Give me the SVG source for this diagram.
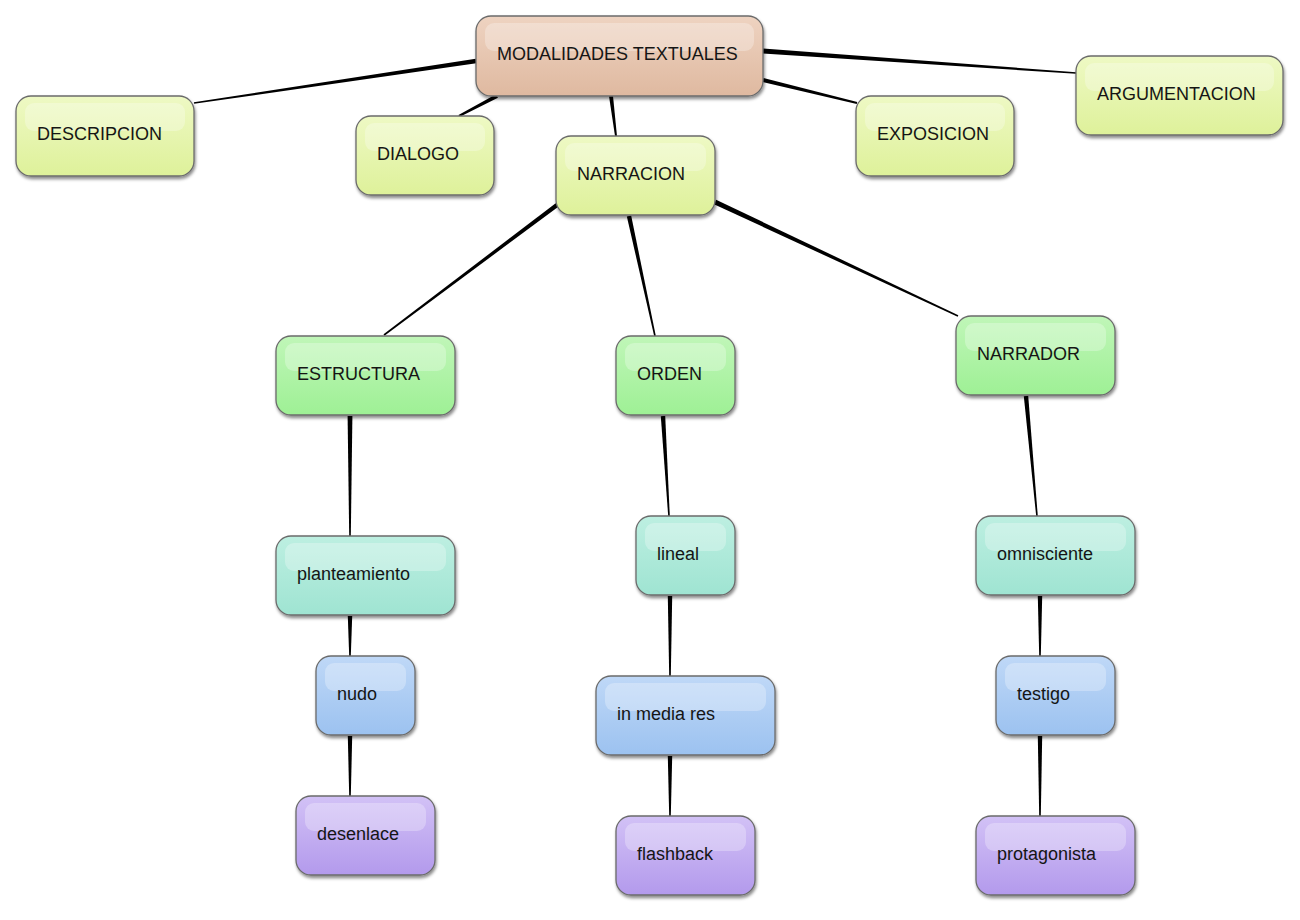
<svg xmlns="http://www.w3.org/2000/svg" width="1300" height="920" viewBox="0 0 1300 920">
<style>
.box{stroke:#6b6b6b;stroke-width:1.3;filter:url(#sh)}
.hl{fill:#ffffff;fill-opacity:0.28}
.lbl{font-family:"Liberation Sans",Arial,sans-serif;font-size:18px;fill:#151515}
.con{fill:#000}
</style>
<defs>
<filter id="sh" x="-10%" y="-10%" width="130%" height="140%">
<feDropShadow dx="1" dy="2.5" stdDeviation="1.8" flood-color="#000" flood-opacity="0.45"/>
</filter>
<linearGradient id="gRoot" x1="0" y1="0" x2="0" y2="1"><stop offset="0" stop-color="#eed3c1"/><stop offset="1" stop-color="#dfb9a0"/></linearGradient>
<linearGradient id="gY" x1="0" y1="0" x2="0" y2="1"><stop offset="0" stop-color="#eef9c4"/><stop offset="1" stop-color="#def19a"/></linearGradient>
<linearGradient id="gG" x1="0" y1="0" x2="0" y2="1"><stop offset="0" stop-color="#c0f6b8"/><stop offset="1" stop-color="#9ef095"/></linearGradient>
<linearGradient id="gT" x1="0" y1="0" x2="0" y2="1"><stop offset="0" stop-color="#bdefe1"/><stop offset="1" stop-color="#9fe4d2"/></linearGradient>
<linearGradient id="gB" x1="0" y1="0" x2="0" y2="1"><stop offset="0" stop-color="#bfd8f7"/><stop offset="1" stop-color="#9cc2f0"/></linearGradient>
<linearGradient id="gP" x1="0" y1="0" x2="0" y2="1"><stop offset="0" stop-color="#d2c1f6"/><stop offset="1" stop-color="#b39aec"/></linearGradient>
</defs>
<rect width="1300" height="920" fill="#ffffff"/>
<g id="connectors">
<polygon class="con" points="475.68,58.82 193.88,102.21 194.12,103.79 476.32,63.18"/>
<polygon class="con" points="496.07,94.23 458.53,115.11 459.47,116.89 497.93,97.77"/>
<polygon class="con" points="609.02,96.25 615.01,136.12 616.99,135.88 612.98,95.75"/>
<polygon class="con" points="762.52,81.94 856.76,103.97 857.24,102.03 763.48,78.06"/>
<polygon class="con" points="762.82,53.49 1075.94,73.8 1076.06,72.2 763.18,48.51"/>
<polygon class="con" points="555.68,203.24 383.52,334.36 384.48,335.64 558.32,206.76"/>
<polygon class="con" points="626.85,216.47 654.22,336.17 655.78,335.83 631.15,215.53"/>
<polygon class="con" points="713.94,204.26 957.66,316.72 958.34,315.28 716.06,199.74"/>
<polygon class="con" points="347.6,416 349.2,536 350.8,536 352.4,416"/>
<polygon class="con" points="660.8,416.13 668.2,516.05 669.8,515.95 665.2,415.87"/>
<polygon class="con" points="1023.81,396.2 1036.2,516.07 1037.8,515.93 1028.19,395.8"/>
<polygon class="con" points="347.8,616 349.2,656 350.8,656 352.2,616"/>
<polygon class="con" points="347.8,736 349.2,796 350.8,796 352.2,736"/>
<polygon class="con" points="667.8,596 669.2,676 670.8,676 672.2,596"/>
<polygon class="con" points="667.8,756 669.2,816 670.8,816 672.2,756"/>
<polygon class="con" points="1037.8,596 1039.2,656 1040.8,656 1042.2,596"/>
<polygon class="con" points="1037.8,736 1039.2,816 1040.8,816 1042.2,736"/>
</g>
<g id="n-root"><rect class="box" x="476" y="16" width="287" height="80" rx="15" fill="url(#gRoot)"/><rect class="hl" x="485" y="23" width="269" height="28" rx="9"/><text class="lbl" x="497" y="60">MODALIDADES TEXTUALES</text></g>
<g id="n-descripcion"><rect class="box" x="16" y="96" width="178" height="80" rx="15" fill="url(#gY)"/><rect class="hl" x="25" y="103" width="160" height="28" rx="9"/><text class="lbl" x="37" y="140">DESCRIPCION</text></g>
<g id="n-dialogo"><rect class="box" x="356" y="116" width="138" height="79" rx="15" fill="url(#gY)"/><rect class="hl" x="365" y="123" width="120" height="28" rx="9"/><text class="lbl" x="377" y="160">DIALOGO</text></g>
<g id="n-narracion"><rect class="box" x="556" y="136" width="159" height="79" rx="15" fill="url(#gY)"/><rect class="hl" x="565" y="143" width="141" height="28" rx="9"/><text class="lbl" x="577" y="180">NARRACION</text></g>
<g id="n-exposicion"><rect class="box" x="856" y="96" width="158" height="80" rx="15" fill="url(#gY)"/><rect class="hl" x="865" y="103" width="140" height="28" rx="9"/><text class="lbl" x="877" y="140">EXPOSICION</text></g>
<g id="n-argumentacion"><rect class="box" x="1076" y="56" width="207" height="79" rx="15" fill="url(#gY)"/><rect class="hl" x="1085" y="63" width="189" height="28" rx="9"/><text class="lbl" x="1097" y="100">ARGUMENTACION</text></g>
<g id="n-estructura"><rect class="box" x="276" y="336" width="179" height="79" rx="15" fill="url(#gG)"/><rect class="hl" x="285" y="343" width="161" height="28" rx="9"/><text class="lbl" x="297" y="380">ESTRUCTURA</text></g>
<g id="n-orden"><rect class="box" x="616" y="336" width="119" height="79" rx="15" fill="url(#gG)"/><rect class="hl" x="625" y="343" width="101" height="28" rx="9"/><text class="lbl" x="637" y="380">ORDEN</text></g>
<g id="n-narrador"><rect class="box" x="956" y="316" width="159" height="79" rx="15" fill="url(#gG)"/><rect class="hl" x="965" y="323" width="141" height="28" rx="9"/><text class="lbl" x="977" y="360">NARRADOR</text></g>
<g id="n-planteamiento"><rect class="box" x="276" y="536" width="179" height="79" rx="15" fill="url(#gT)"/><rect class="hl" x="285" y="543" width="161" height="28" rx="9"/><text class="lbl" x="297" y="580">planteamiento</text></g>
<g id="n-lineal"><rect class="box" x="636" y="516" width="99" height="79" rx="15" fill="url(#gT)"/><rect class="hl" x="645" y="523" width="81" height="28" rx="9"/><text class="lbl" x="657" y="560">lineal</text></g>
<g id="n-omnisciente"><rect class="box" x="976" y="516" width="159" height="79" rx="15" fill="url(#gT)"/><rect class="hl" x="985" y="523" width="141" height="28" rx="9"/><text class="lbl" x="997" y="560">omnisciente</text></g>
<g id="n-nudo"><rect class="box" x="316" y="656" width="99" height="79" rx="15" fill="url(#gB)"/><rect class="hl" x="325" y="663" width="81" height="28" rx="9"/><text class="lbl" x="337" y="700">nudo</text></g>
<g id="n-inmediares"><rect class="box" x="596" y="676" width="179" height="79" rx="15" fill="url(#gB)"/><rect class="hl" x="605" y="683" width="161" height="28" rx="9"/><text class="lbl" x="617" y="720">in media res</text></g>
<g id="n-testigo"><rect class="box" x="996" y="656" width="119" height="79" rx="15" fill="url(#gB)"/><rect class="hl" x="1005" y="663" width="101" height="28" rx="9"/><text class="lbl" x="1017" y="700">testigo</text></g>
<g id="n-desenlace"><rect class="box" x="296" y="796" width="139" height="79" rx="15" fill="url(#gP)"/><rect class="hl" x="305" y="803" width="121" height="28" rx="9"/><text class="lbl" x="317" y="840">desenlace</text></g>
<g id="n-flashback"><rect class="box" x="616" y="816" width="139" height="79" rx="15" fill="url(#gP)"/><rect class="hl" x="625" y="823" width="121" height="28" rx="9"/><text class="lbl" x="637" y="860">flashback</text></g>
<g id="n-protagonista"><rect class="box" x="976" y="816" width="159" height="79" rx="15" fill="url(#gP)"/><rect class="hl" x="985" y="823" width="141" height="28" rx="9"/><text class="lbl" x="997" y="860">protagonista</text></g>
</svg>
